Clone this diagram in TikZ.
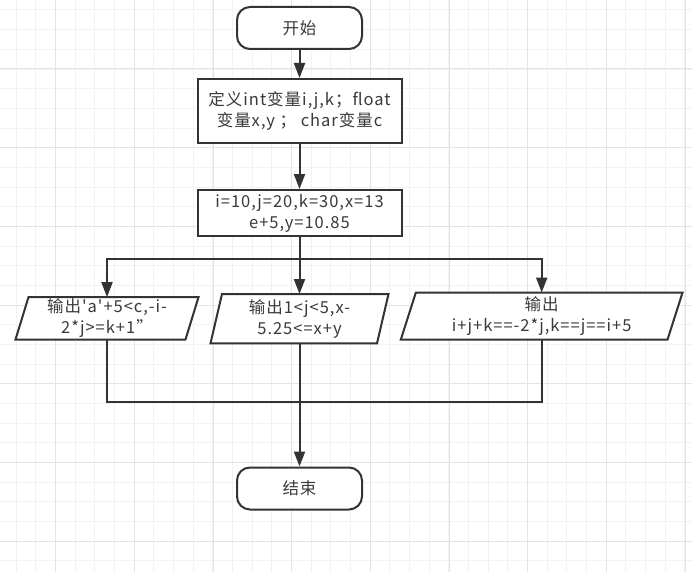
\documentclass[tikz,border=0pt]{standalone}
\usepackage{fontspec}
\newfontfamily\cjk{Noto Sans CJK SC}[LetterSpace=6]
\usetikzlibrary{arrows.meta}
\pgfdeclarelayer{gridlayer}
\pgfdeclarelayer{shapelayer}
\pgfsetlayers{gridlayer,shapelayer,main}
\definecolor{ink}{HTML}{333333}
\definecolor{txt}{HTML}{3A3A3A}
\definecolor{gminor}{HTML}{F2F2F2}
\definecolor{gmajor}{HTML}{E4E4E4}
\tikzset{
  base/.style={font=\cjk\fontsize{16.5}{21}\selectfont, text=txt, align=center, inner sep=0pt},
  term/.style={base, draw=ink, line width=2pt, fill=white, rounded corners=13pt, minimum width=125pt, minimum height=42pt},
  proc/.style={base, draw=ink, line width=2pt, fill=white, minimum width=204pt},
  io/.style={base},
  para/.style={draw=ink, line width=2pt, fill=white, line join=miter},
  conn/.style={draw=ink, line width=2pt},
  arr/.style={conn, -{Triangle[length=15pt,width=11pt]}},
}
\begin{document}
\begin{tikzpicture}[x=1pt,y=-1pt]
\useasboundingbox (0,0) rectangle (692,572);
\begin{pgfonlayer}{gridlayer}
  \fill[white] (0,0) rectangle (692,572);
  \foreach \i in {0,...,35} {
    \draw[gminor, line width=1pt] (16+19.67*\i,0) -- (16+19.67*\i,572);
    \draw[gminor, line width=1pt] (0,10+19.67*\i) -- (692,10+19.67*\i);
  }
  \foreach \i in {0,...,8} {
    \draw[gmajor, line width=1pt] (55.7+78.7*\i,0) -- (55.7+78.7*\i,572);
    \draw[gmajor, line width=1pt] (0,-9.7+78.7*\i) -- (692,-9.7+78.7*\i);
  }
\end{pgfonlayer}

\node[term] (start) at (299.5,28) {开始};
\node[proc, minimum height=64pt] (b1) at (299.5,111) {定义int变量i,j,k；float\\变量x,y ； char变量c};
\node[proc, minimum height=46pt] (b2) at (299.5,213) {i=10,j=20,k=30,x=13\\e+5,y=10.85};

\node[io, minimum width=182.6pt, minimum height=42pt] (p1) at (107,318.3) {输出'a'+5<c,-i-\\2*j>=k+1”};
\node[io, minimum width=177.6pt, minimum height=49pt] (p2) at (299.5,318.7) {输出1<j<5,x-\\5.25<=x+y};
\node[io, minimum width=281.3pt, minimum height=46.6pt] (p3) at (541.7,316) {输出\\i+j+k==-2*j,k==j==i+5};

\node[term] (end) at (299.5,488.5) {结束};

\begin{pgfonlayer}{shapelayer}
  \draw[para] ([xshift=13pt]p1.north west) -- (p1.north east) -- ([xshift=-13pt]p1.south east) -- (p1.south west) -- cycle;
  \draw[para] ([xshift=11.5pt]p2.north west) -- (p2.north east) -- ([xshift=-11.5pt]p2.south east) -- (p2.south west) -- cycle;
  \draw[para] ([xshift=15pt]p3.north west) -- (p3.north east) -- ([xshift=-15pt]p3.south east) -- (p3.south west) -- cycle;
\end{pgfonlayer}

\coordinate (split) at (299.5,259);
\coordinate (merge) at (299.5,402);

\draw[arr] (start.south) -- (b1.north);
\draw[arr] (b1.south) -- (b2.north);
\draw[arr] (b2.south) -- (p2.north);
\draw[arr] (split) -| (p1.north);
\draw[arr] (split) -| (p3.north);
\draw[conn] (p1.south) |- (merge);
\draw[conn] (p3.south) |- (merge);
\draw[arr] (p2.south) -- (end.north);
\end{tikzpicture}
\end{document}
